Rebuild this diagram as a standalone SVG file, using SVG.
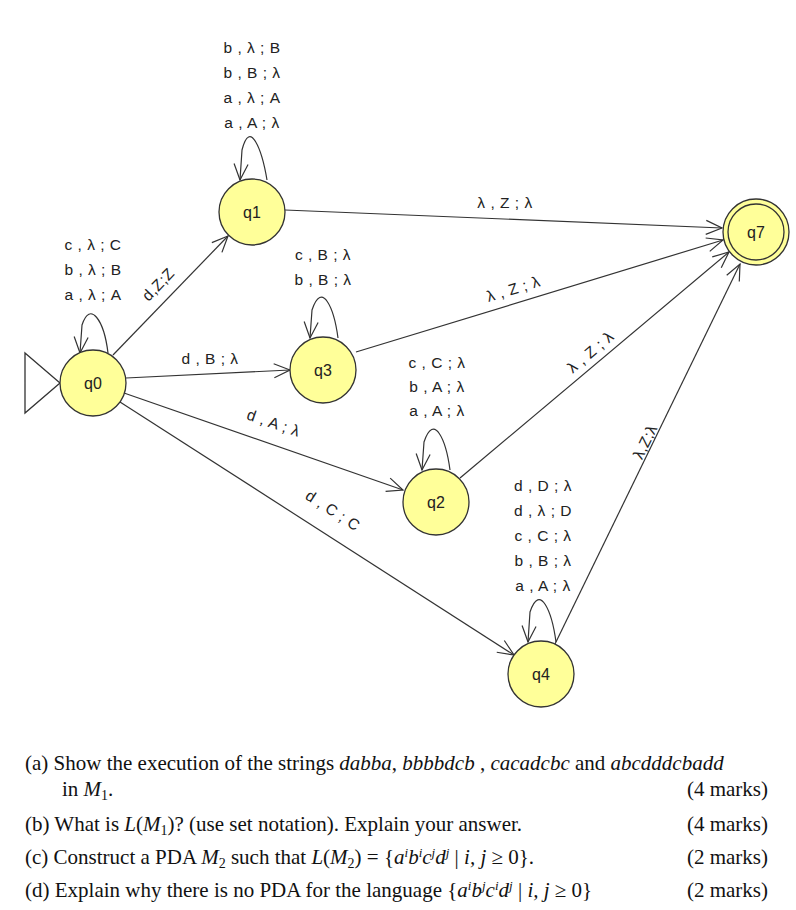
<svg xmlns="http://www.w3.org/2000/svg" width="796" height="910" viewBox="0 0 796 910">
<style>
.st{fill:#ffff99;stroke:#333;stroke-width:1.3}
.e{fill:none;stroke:#333;stroke-width:1.2}
.lb{font-family:"Liberation Sans",Arial,sans-serif;font-size:15.5px;fill:#222;letter-spacing:0.5px;text-anchor:middle}
.nm{font-family:"Liberation Sans",Arial,sans-serif;font-size:16px;fill:#222;text-anchor:middle}
.tx{font-family:"Liberation Serif","Times New Roman",serif;font-size:21px;fill:#111}
</style>
<defs>
<marker id="ar" viewBox="0 0 20 20" refX="18" refY="10" markerWidth="20" markerHeight="20" markerUnits="userSpaceOnUse" orient="auto">
<polyline points="2,3 18,10 2,17" fill="none" stroke="#333" stroke-width="1.2"/>
</marker>
</defs>
<g id="connectors">
<polygon points="25,353 60,383 25,413" fill="#fff" stroke="#333" stroke-width="1.3"/>
<line class="e" x1="113" y1="355" x2="228" y2="236" marker-end="url(#ar)"/>
<line class="e" x1="126" y1="378" x2="290" y2="370" marker-end="url(#ar)"/>
<line class="e" x1="124" y1="393" x2="403" y2="490" marker-end="url(#ar)"/>
<line class="e" x1="120" y1="402" x2="514" y2="655" marker-end="url(#ar)"/>
<line class="e" x1="285" y1="210" x2="722" y2="228" marker-end="url(#ar)"/>
<line class="e" x1="356" y1="352" x2="723" y2="240" marker-end="url(#ar)"/>
<line class="e" x1="460" y1="478" x2="729" y2="252" marker-end="url(#ar)"/>
<line class="e" x1="555" y1="644" x2="740" y2="264" marker-end="url(#ar)"/>
<path class="e" d="M108,353 C104,320 90,300 82,325 L80,353" marker-end="url(#ar)"/>
<path class="e" d="M267,180 C262,150 250,118 242,150 L240,180" marker-end="url(#ar)"/>
<path class="e" d="M338,338 C334,308 322,280 312,310 L310,338" marker-end="url(#ar)"/>
<path class="e" d="M450,470 C446,440 434,412 424,442 L422,470" marker-end="url(#ar)"/>
<path class="e" d="M556,642 C552,612 540,582 530,612 L528,642" marker-end="url(#ar)"/>
<text class="lb" transform="translate(162,288) rotate(-46)">d,Z;Z</text>
<text class="lb" x="210" y="364">d , B ; λ</text>
<text class="lb" transform="translate(272,428) rotate(19)">d , A ; λ</text>
<text class="lb" transform="translate(330,515) rotate(33)">d , C ; C</text>
<text class="lb" x="505" y="208">λ , Z ; λ</text>
<text class="lb" transform="translate(515,294) rotate(-17)">λ , Z ; λ</text>
<text class="lb" transform="translate(594,356) rotate(-40)">λ , Z ; λ</text>
<text class="lb" transform="translate(650,444) rotate(-64)">λ,Z;λ</text>
<text class="lb" x="93" y="250">c , λ ; C</text>
<text class="lb" x="93" y="275">b , λ ; B</text>
<text class="lb" x="93" y="300">a , λ ; A</text>
<text class="lb" x="252" y="53">b , λ ; B</text>
<text class="lb" x="252" y="78">b , B ; λ</text>
<text class="lb" x="252" y="103">a , λ ; A</text>
<text class="lb" x="252" y="128">a , A ; λ</text>
<text class="lb" x="323" y="260">c , B ; λ</text>
<text class="lb" x="323" y="285">b , B ; λ</text>
<text class="lb" x="437" y="368">c , C ; λ</text>
<text class="lb" x="437" y="392">b , A ; λ</text>
<text class="lb" x="437" y="416">a , A ; λ</text>
<text class="lb" x="543" y="491">d , D ; λ</text>
<text class="lb" x="543" y="516">d , λ ; D</text>
<text class="lb" x="543" y="541">c , C ; λ</text>
<text class="lb" x="543" y="566">b , B ; λ</text>
<text class="lb" x="543" y="591">a , A ; λ</text>
</g>
<g id="q0"><circle class="st" cx="93" cy="383" r="33"/><text class="nm" x="93" y="389">q0</text></g>
<g id="q1"><circle class="st" cx="252" cy="212" r="33"/><text class="nm" x="252" y="218">q1</text></g>
<g id="q3"><circle class="st" cx="323" cy="370" r="33"/><text class="nm" x="323" y="376">q3</text></g>
<g id="q2"><circle class="st" cx="436" cy="502" r="33"/><text class="nm" x="436" y="508">q2</text></g>
<g id="q4"><circle class="st" cx="541" cy="674" r="33"/><text class="nm" x="541" y="680">q4</text></g>
<g id="q7"><circle class="st" cx="756" cy="232" r="33"/><circle cx="756" cy="232" r="28" fill="none" stroke="#333" stroke-width="1.3"/><text class="nm" x="756" y="238">q7</text></g>
<g id="questions" class="tx">
<text x="25" y="770">(a) Show the execution of the strings <tspan font-style="italic">dabba</tspan>, <tspan font-style="italic">bbbbdcb</tspan> , <tspan font-style="italic">cacadcbc</tspan> and <tspan font-style="italic">abcdddcbadd</tspan></text>
<text x="62" y="796">in <tspan font-style="italic">M</tspan><tspan font-size="14" dy="4">1</tspan><tspan dy="-4">.</tspan></text>
<text x="768" y="796" text-anchor="end">(4 marks)</text>
<text x="25" y="831">(b) What is <tspan font-style="italic">L</tspan>(<tspan font-style="italic">M</tspan><tspan font-size="14" dy="4">1</tspan><tspan dy="-4">)? (use set notation). Explain your answer.</tspan></text>
<text x="768" y="831" text-anchor="end">(4 marks)</text>
<text x="25" y="864">(c) Construct a PDA <tspan font-style="italic">M</tspan><tspan font-size="14" dy="4">2</tspan><tspan dy="-4"> such that </tspan><tspan font-style="italic">L</tspan>(<tspan font-style="italic">M</tspan><tspan font-size="14" dy="4">2</tspan><tspan dy="-4">) = {</tspan><tspan font-style="italic">a</tspan><tspan font-size="13" font-style="italic" dy="-7">i</tspan><tspan font-style="italic" dy="7">b</tspan><tspan font-size="13" font-style="italic" dy="-7">i</tspan><tspan font-style="italic" dy="7">c</tspan><tspan font-size="13" font-style="italic" dy="-7">j</tspan><tspan font-style="italic" dy="7">d</tspan><tspan font-size="13" font-style="italic" dy="-7">j</tspan><tspan dy="7"> | </tspan><tspan font-style="italic">i, j</tspan> ≥ 0}.</text>
<text x="768" y="864" text-anchor="end">(2 marks)</text>
<text x="25" y="897">(d) Explain why there is no PDA for the language {<tspan font-style="italic">a</tspan><tspan font-size="13" font-style="italic" dy="-7">i</tspan><tspan font-style="italic" dy="7">b</tspan><tspan font-size="13" font-style="italic" dy="-7">j</tspan><tspan font-style="italic" dy="7">c</tspan><tspan font-size="13" font-style="italic" dy="-7">i</tspan><tspan font-style="italic" dy="7">d</tspan><tspan font-size="13" font-style="italic" dy="-7">j</tspan><tspan dy="7"> | </tspan><tspan font-style="italic">i, j</tspan> ≥ 0}</text>
<text x="768" y="897" text-anchor="end">(2 marks)</text>
</g>
</svg>
